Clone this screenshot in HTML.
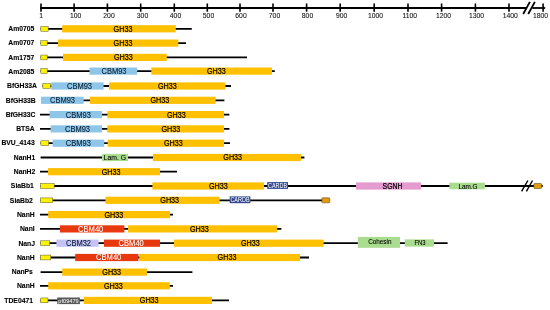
<!DOCTYPE html><html><head><meta charset="utf-8"><title>Sialidase domain architecture</title>
<style>html,body{margin:0;padding:0;background:#fff}svg{display:block}text{font-family:"Liberation Sans",sans-serif}.lb{font-weight:bold;font-size:6.8px;text-anchor:end;fill:#000;stroke:#000;stroke-width:0.1px}.d{font-size:7.7px;text-anchor:middle}.ax{font-size:6.8px;text-anchor:middle;fill:#111;stroke:#111;stroke-width:0.08px}</style></head><body>
<svg width="550" height="310" viewBox="0 0 550 310">
<rect width="550" height="310" fill="#fff"/>
<g stroke="#000" stroke-width="1.8">
<line x1="40.3" y1="8" x2="526.4" y2="8"/>
<line x1="532.4" y1="8" x2="545.2" y2="8"/>
</g><g stroke="#000" stroke-width="1.6">
<line x1="41.0" y1="3.5" x2="41.0" y2="11.7"/>
<line x1="74.1" y1="3.5" x2="74.1" y2="11.7"/>
<line x1="107.4" y1="3.5" x2="107.4" y2="11.7"/>
<line x1="140.7" y1="3.5" x2="140.7" y2="11.7"/>
<line x1="174.3" y1="3.5" x2="174.3" y2="11.7"/>
<line x1="207.3" y1="3.5" x2="207.3" y2="11.7"/>
<line x1="240.0" y1="3.5" x2="240.0" y2="11.7"/>
<line x1="273.0" y1="3.5" x2="273.0" y2="11.7"/>
<line x1="306.6" y1="3.5" x2="306.6" y2="11.7"/>
<line x1="340.2" y1="3.5" x2="340.2" y2="11.7"/>
<line x1="374.2" y1="3.5" x2="374.2" y2="11.7"/>
<line x1="408.0" y1="3.5" x2="408.0" y2="11.7"/>
<line x1="441.6" y1="3.5" x2="441.6" y2="11.7"/>
<line x1="475.4" y1="3.5" x2="475.4" y2="11.7"/>
<line x1="509.0" y1="3.5" x2="509.0" y2="11.7"/>
<line x1="543.1" y1="3.5" x2="543.1" y2="11.7"/>
</g><g stroke="#000" stroke-width="1.8">
<line x1="523.2" y1="14" x2="529.9" y2="1.9"/><line x1="528.2" y1="14" x2="534.9" y2="1.9"/>
</g>
<text class="ax" x="41.2" y="17.7">1</text>
<text class="ax" x="75.7" y="17.7">100</text>
<text class="ax" x="109.0" y="17.7">200</text>
<text class="ax" x="142.5" y="18.0">300</text>
<text class="ax" x="175.5" y="17.7">400</text>
<text class="ax" x="208.5" y="17.7">500</text>
<text class="ax" x="241.0" y="17.7">600</text>
<text class="ax" x="274.5" y="17.7">700</text>
<text class="ax" x="307.5" y="17.7">800</text>
<text class="ax" x="341.7" y="17.7">900</text>
<text class="ax" x="375.5" y="17.7">1000</text>
<text class="ax" x="409.8" y="18.1">1100</text>
<text class="ax" x="443.5" y="17.7">1200</text>
<text class="ax" x="476.6" y="17.7">1300</text>
<text class="ax" x="510.2" y="17.7">1400</text>
<text class="ax" x="540.5" y="17.7">1800</text>
<text class="lb" x="34.3" y="31.2">Am0705</text>
<line x1="40.6" y1="28.9" x2="191.8" y2="28.9" stroke="#000" stroke-width="1.8"/>
<rect x="40.85" y="26.45" width="7.30" height="4.8" fill="#FFF200" stroke="#5a5a20" stroke-width="0.5"/>
<rect x="62.2" y="25.2" width="113.6" height="7.2" fill="#FFC000"/>
<text class="d" x="123.0" y="31.8" fill="#000" stroke="#000" stroke-width="0.22" style="font-size:8.5px" textLength="18.8" lengthAdjust="spacingAndGlyphs">GH33</text>
<text class="lb" x="34.3" y="45.4">Am0707</text>
<line x1="40.6" y1="43.1" x2="186" y2="43.1" stroke="#000" stroke-width="1.8"/>
<rect x="40.85" y="40.74" width="6.30" height="4.8" fill="#FFF200" stroke="#5a5a20" stroke-width="0.5"/>
<rect x="58" y="39.5" width="120.3" height="7.2" fill="#FFC000"/>
<text class="d" x="123.0" y="46.1" fill="#000" stroke="#000" stroke-width="0.22" style="font-size:8.5px" textLength="18.8" lengthAdjust="spacingAndGlyphs">GH33</text>
<text class="lb" x="34.3" y="59.7">Am1757</text>
<line x1="40.6" y1="57.4" x2="247" y2="57.4" stroke="#000" stroke-width="1.8"/>
<rect x="40.85" y="55.03" width="6.30" height="4.8" fill="#FFF200" stroke="#5a5a20" stroke-width="0.5"/>
<rect x="63" y="53.8" width="103.8" height="7.2" fill="#FFC000"/>
<text class="d" x="123.3" y="60.4" fill="#000" stroke="#000" stroke-width="0.22" style="font-size:8.5px" textLength="18.8" lengthAdjust="spacingAndGlyphs">GH33</text>
<text class="lb" x="34.3" y="74.0">Am2085</text>
<line x1="40.6" y1="71.1" x2="274.8" y2="71.1" stroke="#000" stroke-width="1.8"/>
<rect x="40.85" y="68.70" width="6.30" height="4.8" fill="#FFF200" stroke="#5a5a20" stroke-width="0.5"/>
<rect x="89.5" y="67.5" width="47.7" height="7.2" fill="#8DC6E8"/>
<text class="d" x="114.0" y="74.0" fill="#0d1f33" stroke="#0d1f33" stroke-width="0.12" style="font-size:8.5px" textLength="25" lengthAdjust="spacingAndGlyphs">CBM93</text>
<rect x="151.3" y="67.5" width="120.7" height="7.2" fill="#FFC000"/>
<text class="d" x="216.3" y="74.0" fill="#000" stroke="#000" stroke-width="0.22" style="font-size:8.5px" textLength="18.8" lengthAdjust="spacingAndGlyphs">GH33</text>
<text class="lb" x="36.9" y="88.3">BfGH33A</text>
<line x1="42.6" y1="86.0" x2="231" y2="86.0" stroke="#000" stroke-width="1.8"/>
<rect x="42.85" y="83.61" width="7.70" height="4.8" fill="#FFF200" stroke="#5a5a20" stroke-width="0.5"/>
<rect x="51.2" y="82.4" width="52.4" height="7.2" fill="#8DC6E8"/>
<text class="d" x="79.5" y="88.9" fill="#0d1f33" stroke="#0d1f33" stroke-width="0.12" style="font-size:8.5px" textLength="25" lengthAdjust="spacingAndGlyphs">CBM93</text>
<rect x="109" y="82.4" width="116.4" height="7.2" fill="#FFC000"/>
<text class="d" x="167.3" y="88.9" fill="#000" stroke="#000" stroke-width="0.22" style="font-size:8.5px" textLength="18.8" lengthAdjust="spacingAndGlyphs">GH33</text>
<text class="lb" x="35.7" y="102.6">BfGH33B</text>
<line x1="41" y1="100.3" x2="224.4" y2="100.3" stroke="#000" stroke-width="1.8"/>
<rect x="41" y="96.7" width="42.6" height="7.2" fill="#8DC6E8"/>
<text class="d" x="62.5" y="103.2" fill="#0d1f33" stroke="#0d1f33" stroke-width="0.12" style="font-size:8.5px" textLength="25" lengthAdjust="spacingAndGlyphs">CBM93</text>
<rect x="90" y="96.7" width="125.6" height="7.2" fill="#FFC000"/>
<text class="d" x="159.8" y="103.2" fill="#000" stroke="#000" stroke-width="0.22" style="font-size:8.5px" textLength="18.8" lengthAdjust="spacingAndGlyphs">GH33</text>
<text class="lb" x="35.5" y="116.9">BfGH33C</text>
<line x1="40" y1="114.6" x2="229.4" y2="114.6" stroke="#000" stroke-width="1.8"/>
<rect x="49.6" y="111.0" width="52.4" height="7.2" fill="#8DC6E8"/>
<text class="d" x="78.3" y="117.5" fill="#0d1f33" stroke="#0d1f33" stroke-width="0.12" style="font-size:8.5px" textLength="25" lengthAdjust="spacingAndGlyphs">CBM93</text>
<rect x="107.4" y="111.0" width="116.6" height="7.2" fill="#FFC000"/>
<text class="d" x="176.3" y="117.5" fill="#000" stroke="#000" stroke-width="0.22" style="font-size:8.5px" textLength="18.8" lengthAdjust="spacingAndGlyphs">GH33</text>
<text class="lb" x="34.7" y="131.2">BTSA</text>
<line x1="40" y1="128.9" x2="229.4" y2="128.9" stroke="#000" stroke-width="1.8"/>
<rect x="50.6" y="125.3" width="51.4" height="7.2" fill="#8DC6E8"/>
<text class="d" x="77.5" y="131.8" fill="#0d1f33" stroke="#0d1f33" stroke-width="0.12" style="font-size:8.5px" textLength="25" lengthAdjust="spacingAndGlyphs">CBM93</text>
<rect x="107.3" y="125.3" width="116.7" height="7.2" fill="#FFC000"/>
<text class="d" x="170.8" y="131.8" fill="#000" stroke="#000" stroke-width="0.22" style="font-size:8.5px" textLength="18.8" lengthAdjust="spacingAndGlyphs">GH33</text>
<text class="lb" x="34.7" y="145.0">BVU_4143</text>
<line x1="40.6" y1="143.2" x2="230" y2="143.2" stroke="#000" stroke-width="1.8"/>
<rect x="40.85" y="140.77" width="7.90" height="4.8" fill="#FFF200" stroke="#5a5a20" stroke-width="0.5"/>
<rect x="52.6" y="139.6" width="51.6" height="7.2" fill="#8DC6E8"/>
<text class="d" x="78.3" y="146.1" fill="#0d1f33" stroke="#0d1f33" stroke-width="0.12" style="font-size:8.5px" textLength="25" lengthAdjust="spacingAndGlyphs">CBM93</text>
<rect x="107.6" y="139.6" width="116.4" height="7.2" fill="#FFC000"/>
<text class="d" x="173.3" y="146.1" fill="#000" stroke="#000" stroke-width="0.22" style="font-size:8.5px" textLength="18.8" lengthAdjust="spacingAndGlyphs">GH33</text>
<text class="lb" x="35.3" y="159.8">NanH1</text>
<line x1="40.6" y1="157.5" x2="304.4" y2="157.5" stroke="#000" stroke-width="1.8"/>
<rect x="102" y="153.9" width="26.0" height="7.2" fill="#A9DC8E"/>
<text class="d" x="114.8" y="160.2" fill="#000" stroke="#000" stroke-width="0.1" style="font-size:7.9px" textLength="22.4" lengthAdjust="spacingAndGlyphs">Lam. G</text>
<rect x="153" y="153.9" width="148.0" height="7.2" fill="#FFC000"/>
<text class="d" x="232.7" y="160.4" fill="#000" stroke="#000" stroke-width="0.22" style="font-size:8.5px" textLength="18.8" lengthAdjust="spacingAndGlyphs">GH33</text>
<text class="lb" x="35.3" y="174.0">NanH2</text>
<line x1="40" y1="171.7" x2="177" y2="171.7" stroke="#000" stroke-width="1.8"/>
<rect x="48" y="168.1" width="112.0" height="7.2" fill="#FFC000"/>
<text class="d" x="111.1" y="174.7" fill="#000" stroke="#000" stroke-width="0.22" style="font-size:8.5px" textLength="18.8" lengthAdjust="spacingAndGlyphs">GH33</text>
<text class="lb" x="33.9" y="188.3">SiaBb1</text>
<line x1="40.6" y1="186.0" x2="542.7" y2="186.0" stroke="#000" stroke-width="1.8"/>
<rect x="40.65" y="183.64" width="13.50" height="4.8" fill="#FFF200" stroke="#5a5a20" stroke-width="0.5"/>
<rect x="152.4" y="182.4" width="111.6" height="7.2" fill="#FFC000"/>
<text class="d" x="218.3" y="189.0" fill="#000" stroke="#000" stroke-width="0.22" style="font-size:8.5px" textLength="18.8" lengthAdjust="spacingAndGlyphs">GH33</text>
<rect x="267.2" y="182.1" width="20.8" height="6.8" fill="#34498F"/>
<text class="d" x="277.6" y="187.8" fill="#fff" stroke="#fff" stroke-width="0" style="font-size:6.4px" textLength="19.2" lengthAdjust="spacingAndGlyphs">CARDB</text>
<rect x="356" y="182.4" width="65.0" height="7.2" fill="#E49BD0"/>
<text class="d" x="392.5" y="189.0" fill="#000" stroke="#000" stroke-width="0.22" style="font-size:8.5px" textLength="19.8" lengthAdjust="spacingAndGlyphs">SGNH</text>
<rect x="449.4" y="182.7" width="35.6" height="6.6" fill="#A9DC8E"/>
<text class="d" x="468.0" y="188.6" fill="#000" stroke="#000" stroke-width="0.1" style="font-size:7.5px" textLength="19.2" lengthAdjust="spacingAndGlyphs">Lam.G</text>
<text class="lb" x="32.9" y="202.6">SiaBb2</text>
<line x1="40.6" y1="200.3" x2="322" y2="200.3" stroke="#000" stroke-width="1.8"/>
<rect x="40.65" y="197.93" width="12.10" height="4.8" fill="#FFF200" stroke="#5a5a20" stroke-width="0.5"/>
<rect x="105.5" y="196.7" width="114.1" height="7.2" fill="#FFC000"/>
<text class="d" x="169.7" y="203.3" fill="#000" stroke="#000" stroke-width="0.22" style="font-size:8.5px" textLength="18.8" lengthAdjust="spacingAndGlyphs">GH33</text>
<rect x="229.7" y="196.4" width="20.7" height="6.8" fill="#34498F"/>
<text class="d" x="240.0" y="202.1" fill="#fff" stroke="#fff" stroke-width="0" style="font-size:6.4px" textLength="19.2" lengthAdjust="spacingAndGlyphs">CARDB</text>
<text class="lb" x="34.7" y="216.9">NanH</text>
<line x1="40" y1="214.6" x2="173" y2="214.6" stroke="#000" stroke-width="1.8"/>
<rect x="48.2" y="211.0" width="121.8" height="7.2" fill="#FFC000"/>
<text class="d" x="113.8" y="217.6" fill="#000" stroke="#000" stroke-width="0.22" style="font-size:8.5px" textLength="18.8" lengthAdjust="spacingAndGlyphs">GH33</text>
<text class="lb" x="34.7" y="231.2">NanI</text>
<line x1="40" y1="228.9" x2="281.4" y2="228.9" stroke="#000" stroke-width="1.8"/>
<rect x="60" y="225.3" width="64.4" height="7.2" fill="#E8380D"/>
<text class="d" x="90.7" y="231.8" fill="#fff" stroke="#fff" stroke-width="0.1" style="font-size:8.5px" textLength="25.2" lengthAdjust="spacingAndGlyphs">CBM40</text>
<rect x="128" y="225.3" width="149.0" height="7.2" fill="#FFC000"/>
<text class="d" x="199.3" y="231.8" fill="#000" stroke="#000" stroke-width="0.22" style="font-size:8.5px" textLength="18.8" lengthAdjust="spacingAndGlyphs">GH33</text>
<text class="lb" x="35.0" y="245.5">NanJ</text>
<line x1="40.6" y1="243.2" x2="447.6" y2="243.2" stroke="#000" stroke-width="1.8"/>
<rect x="40.65" y="240.80" width="9.10" height="4.8" fill="#FFF200" stroke="#5a5a20" stroke-width="0.5"/>
<rect x="56.4" y="239.6" width="42.2" height="7.2" fill="#C3C3F5"/>
<text class="d" x="78.5" y="246.1" fill="#0d1f33" stroke="#0d1f33" stroke-width="0.12" style="font-size:8.5px" textLength="25" lengthAdjust="spacingAndGlyphs">CBM32</text>
<rect x="104" y="239.6" width="56.0" height="7.2" fill="#E8380D"/>
<text class="d" x="131.2" y="246.1" fill="#fff" stroke="#fff" stroke-width="0.1" style="font-size:8.5px" textLength="25.2" lengthAdjust="spacingAndGlyphs">CBM40</text>
<rect x="174" y="239.6" width="149.6" height="7.2" fill="#FFC000"/>
<text class="d" x="250.3" y="246.1" fill="#000" stroke="#000" stroke-width="0.22" style="font-size:8.5px" textLength="18.8" lengthAdjust="spacingAndGlyphs">GH33</text>
<rect x="357.8" y="236.9" width="42.2" height="10.9" fill="#A9DC8E"/>
<text class="d" x="379.8" y="243.9" fill="#000" stroke="#000" stroke-width="0.1" style="font-size:7.2px" textLength="23.3" lengthAdjust="spacingAndGlyphs">Cohesin</text>
<rect x="404.8" y="239.4" width="29.2" height="7.2" fill="#A9DC8E"/>
<text class="d" x="420.0" y="245.4" fill="#000" stroke="#000" stroke-width="0.1" style="font-size:6.9px" textLength="11" lengthAdjust="spacingAndGlyphs">FN3</text>
<text class="lb" x="34.7" y="259.8">NanH</text>
<line x1="40.6" y1="257.5" x2="309" y2="257.5" stroke="#000" stroke-width="1.8"/>
<rect x="40.65" y="255.09" width="10.10" height="4.8" fill="#FFF200" stroke="#5a5a20" stroke-width="0.5"/>
<rect x="75.2" y="253.9" width="63.2" height="7.2" fill="#E8380D"/>
<text class="d" x="108.7" y="260.4" fill="#fff" stroke="#fff" stroke-width="0.1" style="font-size:8.5px" textLength="25.2" lengthAdjust="spacingAndGlyphs">CBM40</text>
<rect x="139.3" y="253.9" width="160.7" height="7.2" fill="#FFC000"/>
<text class="d" x="227.0" y="260.4" fill="#000" stroke="#000" stroke-width="0.22" style="font-size:8.5px" textLength="18.8" lengthAdjust="spacingAndGlyphs">GH33</text>
<text class="lb" x="32.9" y="274.4">NanPs</text>
<line x1="40.6" y1="272.1" x2="192.4" y2="272.1" stroke="#000" stroke-width="1.8"/>
<rect x="62.2" y="268.5" width="84.8" height="7.2" fill="#FFC000"/>
<text class="d" x="111.7" y="275.0" fill="#000" stroke="#000" stroke-width="0.22" style="font-size:8.5px" textLength="18.8" lengthAdjust="spacingAndGlyphs">GH33</text>
<text class="lb" x="34.7" y="288.1">NanH</text>
<line x1="40" y1="285.8" x2="173" y2="285.8" stroke="#000" stroke-width="1.8"/>
<rect x="48.2" y="282.2" width="121.6" height="7.2" fill="#FFC000"/>
<text class="d" x="113.3" y="288.7" fill="#000" stroke="#000" stroke-width="0.22" style="font-size:8.5px" textLength="18.8" lengthAdjust="spacingAndGlyphs">GH33</text>
<text class="lb" x="33.0" y="302.7">TDE0471</text>
<line x1="40.6" y1="300.4" x2="229" y2="300.4" stroke="#000" stroke-width="1.8"/>
<rect x="40.75" y="297.96" width="7.20" height="4.8" fill="#FFF200" stroke="#5a5a20" stroke-width="0.5"/>
<rect x="57.2" y="297.5" width="22.7" height="6.6" fill="#585858"/>
<text class="d" x="68.5" y="302.8" fill="#fff" stroke="#fff" stroke-width="0" style="font-size:5.7px" textLength="20.3" lengthAdjust="spacingAndGlyphs">pf09479</text>
<rect x="83.8" y="296.8" width="128.2" height="7.2" fill="#FFC000"/>
<text class="d" x="149.2" y="303.3" fill="#000" stroke="#000" stroke-width="0.22" style="font-size:8.5px" textLength="18.8" lengthAdjust="spacingAndGlyphs">GH33</text>
<g stroke="#000" stroke-width="1.4"><line x1="521.6" y1="191.4" x2="527.9" y2="180.5"/><line x1="526.4" y1="191.4" x2="532.5" y2="180.5"/></g>
<rect x="533.8" y="183.5" width="7.8" height="5" rx="0.8" fill="#E09A10" stroke="#4a3a10" stroke-width="0.5"/>
<rect x="321.8" y="197.8" width="8" height="5" rx="0.8" fill="#E09A10" stroke="#4a3a10" stroke-width="0.5"/>
</svg></body></html>
